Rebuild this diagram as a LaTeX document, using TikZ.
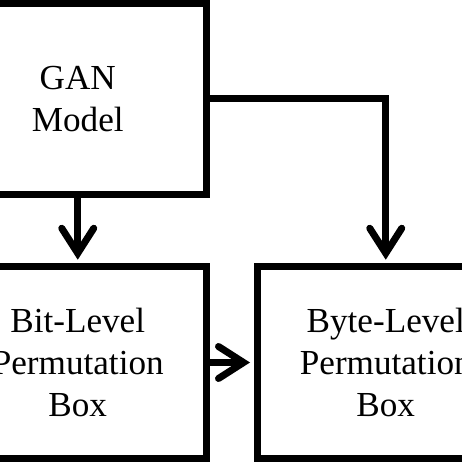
\documentclass[tikz,border=0pt]{standalone}
\usepackage{fontspec}
\setmainfont{Liberation Serif}
\usetikzlibrary{arrows.meta}
\begin{document}
\begin{tikzpicture}[x=1cm,y=1cm,
    blk/.style={draw, line width=0.14cm, align=center, inner sep=0pt,
      minimum width=5.15cm, minimum height=3.83cm,
      font=\fontsize{20}{24}\selectfont},
    flow/.style={line width=0.14cm, shorten >=0.07cm,
      -{Straight Barb[length=0.5cm, width=0.64cm, line cap=round]}}]
    \useasboundingbox (0,0) rectangle (9.24,9.24);
    \node[blk] (gan) at (1.555,7.26) {GAN\\Model};
    \node[blk] (bit) at (1.555,1.99) {Bit-Level\\Permutation\\Box};
    \node[blk] (byte) at (7.715,1.99) {Byte-Level\\Permutation\\Box};
    \draw[flow] (gan) -- (bit);
    \draw[flow] (gan.east) -| (byte.north);
    \draw[flow] (bit) -- (byte);
\end{tikzpicture}
\end{document}
